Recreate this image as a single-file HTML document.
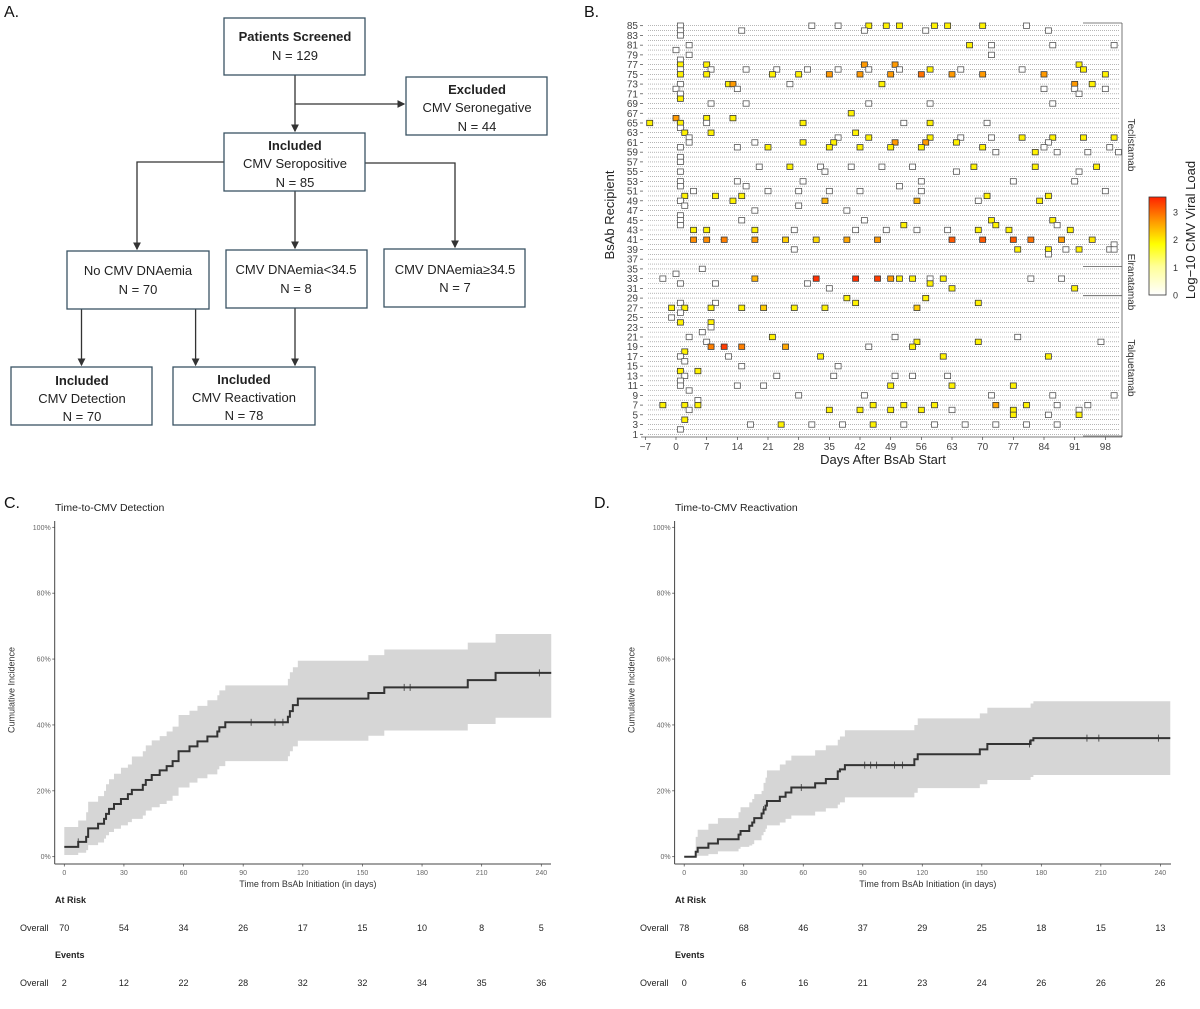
<!DOCTYPE html>
<html><head><meta charset="utf-8"><style>
body{margin:0;background:#fff;}
svg{display:block;font-family:"Liberation Sans",sans-serif;}
.bx{fill:#fff;stroke:#3a5363;stroke-width:1.3;}
.ft{font-size:13px;fill:#222;text-anchor:middle;}
.ln{stroke:#333;stroke-width:1.3;fill:none;}
</style></head><body>
<svg id="fig" width="1200" height="1009" viewBox="0 0 1200 1009">
<defs><marker id="ah" markerWidth="6" markerHeight="6" refX="5" refY="3" orient="auto"><path d="M0,0 L6,3 L0,6 z" fill="#333"/></marker>
<linearGradient id="cbar" x1="0" y1="1" x2="0" y2="0">
<stop offset="0" stop-color="#ffffff"/><stop offset="0.29" stop-color="#ffff99"/><stop offset="0.52" stop-color="#ffff00"/><stop offset="0.75" stop-color="#ff9900"/><stop offset="1" stop-color="#ff2200"/></linearGradient></defs>
<g font-size="16" fill="#111">
<text x="4" y="17">A.</text>
<text x="584" y="17">B.</text>
<text x="4" y="508">C.</text>
<text x="594" y="508">D.</text>
</g>
<g>
<path class="ln" d="M295,75 V131" marker-end="url(#ah)"/>
<path class="ln" d="M295,104 H404" marker-end="url(#ah)"/>
<path class="ln" d="M224,162 H137 V249" marker-end="url(#ah)"/>
<path class="ln" d="M365,163 H455 V247" marker-end="url(#ah)"/>
<path class="ln" d="M295,191 V248" marker-end="url(#ah)"/>
<path class="ln" d="M81.5,309 V365" marker-end="url(#ah)"/>
<path class="ln" d="M195.6,309 V365" marker-end="url(#ah)"/>
<path class="ln" d="M295,308 V365" marker-end="url(#ah)"/>
<g><rect class="bx" x="224" y="18" width="141" height="57"/><text class="ft" x="295" y="41" font-weight="bold">Patients Screened</text><text class="ft" x="295" y="60">N = 129</text></g>
<g><rect class="bx" x="406" y="77" width="141" height="58"/><text class="ft" x="477" y="94" font-weight="bold">Excluded</text><text class="ft" x="477" y="112">CMV Seronegative</text><text class="ft" x="477" y="131">N = 44</text></g>
<g><rect class="bx" x="224" y="133" width="141" height="58"/><text class="ft" x="295" y="150" font-weight="bold">Included</text><text class="ft" x="295" y="168">CMV Seropositive</text><text class="ft" x="295" y="187">N = 85</text></g>
<g><rect class="bx" x="67" y="251" width="142" height="58"/><text class="ft" x="138" y="275">No CMV DNAemia</text><text class="ft" x="138" y="294">N = 70</text></g>
<g><rect class="bx" x="226" y="250" width="141" height="58"/><text class="ft" x="296" y="274">CMV DNAemia&lt;34.5</text><text class="ft" x="296" y="293">N = 8</text></g>
<g><rect class="bx" x="384" y="249" width="141" height="58"/><text class="ft" x="455" y="274">CMV DNAemia≥34.5</text><text class="ft" x="455" y="292">N = 7</text></g>
<g><rect class="bx" x="11" y="367" width="141" height="58"/><text class="ft" x="82" y="385" font-weight="bold">Included</text><text class="ft" x="82" y="403">CMV Detection</text><text class="ft" x="82" y="421">N = 70</text></g>
<g><rect class="bx" x="173" y="367" width="142" height="58"/><text class="ft" x="244" y="384" font-weight="bold">Included</text><text class="ft" x="244" y="402">CMV Reactivation</text><text class="ft" x="244" y="420">N = 78</text></g>
</g>
<g id="pb"></g>
<g id="pc"></g>
<g id="pd"></g>
</svg>
<script>
// ---------- Panel B data: [day, recipient, log10 load]
const bsabSamples=[
[1,85,0],[31,85,0],[37,85,0],[44,85,1.9],[48,85,1.9],[51,85,1.9],[59,85,1.9],[62,85,1.9],[70,85,1.9],[80,85,0],
[1,84,0],[15,84,0],[43,84,0],[57,84,0],[85,84,0],[1,83,0],
[3,81,0],[67,81,1.9],[72,81,0],[86,81,0],[100,81,0],[0,80,0],[3,79,0],[72,79,0],[1,78,0],
[1,77,1.9],[7,77,1.9],[43,77,2.6],[50,77,2.6],[92,77,1.9],
[1,76,0],[8,76,0],[16,76,0],[23,76,0],[30,76,0],[37,76,0],[44,76,0],[51,76,0],[58,76,1.9],[65,76,0],[79,76,0],[93,76,1.9],
[1,75,1.9],[7,75,1.9],[22,75,1.9],[28,75,1.9],[35,75,2.6],[42,75,2.6],[49,75,2.6],[56,75,2.9],[63,75,2.6],[70,75,2.6],[84,75,2.6],[98,75,1.9],
[1,73,0],[12,73,1.9],[13,73,2.6],[26,73,0],[47,73,1.9],[91,73,2.6],[95,73,1.9],
[0,72,0],[14,72,0],[84,72,0],[91,72,0],[98,72,0],[1,71,0],[92,71,0],[1,70,1.9],
[8,69,0],[16,69,0],[44,69,0],[58,69,0],[86,69,0],[40,67,1.9],[0,66,2.6],[7,66,1.9],[13,66,1.9],
[-6,65,1.9],[1,65,1.9],[7,65,0],[29,65,1.9],[52,65,0],[58,65,1.9],[71,65,0],[1,64,0],[2,63,1.9],[8,63,1.9],[41,63,1.9],
[3,62,0],[37,62,0],[44,62,1.9],[58,62,1.9],[65,62,0],[72,62,0],[79,62,1.9],[86,62,1.9],[93,62,1.9],[100,62,1.9],
[3,61,0],[18,61,0],[29,61,1.9],[36,61,1.9],[50,61,2.6],[57,61,2.6],[64,61,1.9],[85,61,0],
[1,60,0],[14,60,0],[21,60,1.9],[35,60,1.9],[42,60,1.9],[49,60,1.9],[56,60,1.9],[70,60,1.9],[84,60,0],[99,60,0],
[73,59,0],[82,59,1.9],[87,59,0],[94,59,0],[101,59,0],[1,58,0],[1,57,0],
[19,56,0],[26,56,1.9],[33,56,0],[40,56,0],[47,56,0],[54,56,0],[68,56,1.9],[82,56,1.9],[96,56,1.9],
[1,55,0],[34,55,0],[64,55,0],[92,55,0],[1,53,0],[14,53,0],[29,53,0],[56,53,0],[77,53,0],[91,53,0],[1,52,0],[16,52,0],[51,52,0],
[4,51,0],[21,51,0],[28,51,0],[35,51,0],[42,51,0],[56,51,0],[98,51,0],[2,50,1.9],[9,50,1.9],[15,50,1.9],[71,50,1.9],[85,50,1.9],
[1,49,0],[13,49,1.9],[34,49,2.4],[55,49,2.4],[69,49,0],[83,49,1.9],[2,48,0],[28,48,0],[18,47,0],[39,47,0],[1,46,0],
[1,45,0],[15,45,0],[43,45,0],[72,45,1.9],[86,45,1.9],[1,44,0],[52,44,1.9],[73,44,1.9],[87,44,0],
[4,43,1.9],[7,43,1.9],[18,43,1.9],[27,43,0],[41,43,0],[48,43,0],[55,43,0],[62,43,0],[69,43,1.9],[76,43,1.9],[90,43,1.9],
[4,41,2.7],[7,41,2.7],[11,41,2.8],[18,41,2.6],[25,41,2.2],[32,41,2.1],[39,41,2.5],[46,41,2.6],[63,41,3.1],[70,41,3.1],[77,41,3.1],[81,41,2.9],[88,41,2.6],[95,41,2.0],
[100,40,0],[27,39,0],[78,39,1.9],[85,39,1.9],[89,39,0],[92,39,1.9],[99,39,0],[100,39,0],[85,38,0],
[6,35,0],[0,34,0],[-3,33,0],[18,33,2.4],[32,33,3.4],[41,33,3.4],[46,33,3.3],[49,33,2.6],[51,33,1.9],[54,33,1.9],[58,33,0],[61,33,1.9],[81,33,0],[88,33,0],
[1,32,0],[9,32,0],[30,32,0],[58,32,1.9],[35,31,0],[63,31,1.9],[91,31,1.9],[39,29,1.9],[57,29,1.9],[1,28,0],[9,28,0],[41,28,1.9],[69,28,1.9],
[-1,27,1.9],[2,27,1.9],[8,27,1.9],[15,27,1.9],[20,27,2.2],[27,27,1.9],[34,27,1.9],[55,27,2.2],[1,26,0],[-1,25,0],[1,24,1.9],[8,24,1.9],[8,23,0],[6,22,0],
[3,21,0],[22,21,1.9],[50,21,0],[78,21,0],[7,20,0],[55,20,1.9],[69,20,1.9],[97,20,0],
[8,19,2.8],[11,19,3.3],[15,19,2.8],[25,19,2.5],[44,19,0],[54,19,1.9],[2,18,1.9],[1,17,0],[12,17,0],[33,17,1.9],[61,17,1.9],[85,17,1.9],[2,16,0],
[15,15,0],[37,15,0],[1,14,1.9],[5,14,1.9],[2,13,0],[23,13,0],[36,13,0],[50,13,0],[54,13,0],[62,13,0],[1,12,0],
[1,11,0],[14,11,0],[20,11,0],[49,11,1.9],[63,11,1.9],[77,11,1.9],[3,10,0],[28,9,0],[43,9,0],[72,9,0],[86,9,0],[100,9,0],[5,8,0],
[-3,7,1.9],[2,7,1.9],[5,7,1.9],[45,7,1.9],[52,7,1.9],[59,7,1.9],[73,7,2.5],[80,7,1.9],[87,7,0],[94,7,0],
[3,6,0],[35,6,1.9],[42,6,1.9],[49,6,1.9],[56,6,1.9],[63,6,0],[77,6,1.9],[92,6,0],[77,5,1.9],[85,5,0],[92,5,1.9],[2,4,1.9],
[17,3,0],[24,3,1.9],[31,3,0],[38,3,0],[45,3,1.9],[52,3,0],[59,3,0],[66,3,0],[73,3,0],[80,3,0],[87,3,0],[1,2,0]];
const bDayTicks=[-7,0,7,14,21,28,35,42,49,56,63,70,77,84,91,98];
const bLoadTicks=[0,1,2,3];

// ---------- Panel C data
const cTimes=[0,7,11,12,17,20,21,22.5,25,28.5,32,34,39.5,41,44,48,51.5,54.5,57.5,63,67,72,77,78,81,112.5,113.5,115,117.5,153,161,203,217];
const cEst=[3,4.5,6,8.6,10,11.5,13,14.5,16,17.5,19,20.3,21.8,23.3,24.8,26.2,27.5,29,32,33.5,35,36.5,38,39.3,40.8,42.5,44.2,46,48,49.7,51.4,53.6,55.8];
const cHi=[9,11,13.5,16.7,18.4,20,22,23.5,25.2,27,28,30.4,32,33.8,35.3,36.6,38,39.5,43,44.3,45.8,47.5,49,50.5,52,54,56,57.5,59.5,61.2,62.9,65,67.6];
const cLo=[0.5,1.2,2,3.5,4.3,5.5,6.5,7.5,8.5,9.5,10.5,11.5,12.5,14,15,16,17,18.5,21,22.5,23.8,25,26.5,27.5,29,30.5,32,33.5,35.2,36.7,38.3,40.3,42.2];
const cCensor=[7,94,106,110,171,174,239];
const cAtRisk=[70,54,34,26,17,15,10,8,5];
const cEvents=[2,12,22,28,32,32,34,35,36];
// ---------- Panel D data
const dTimes=[0,5.8,6.8,12.2,17,27.4,28.4,32.8,34.3,35.3,39,40,41,41.7,48.2,51.1,54,66,71.4,77.4,78.5,81,116,117.7,149,152.8,174.6,176];
const dEst=[0,1.5,2.7,4,5.3,6.7,7.8,9.4,10.4,11.7,13.1,14.3,15.5,16.9,18.2,19.5,21,22.3,23.6,25.9,26.5,27.8,29.6,31.1,32.6,34.2,35.3,36];
const dHi=[0,6,8.2,10,11.7,13.5,15,16.5,17.5,19,20,22.4,24,26.2,28,29.2,30.7,32.3,33.8,35.5,36.5,38.4,40,42,43.5,45.2,46.5,47.2];
const dLo=[0,0.1,0.3,0.8,1.6,2.4,3,3.4,3.8,5,6.5,7.5,8.5,9.5,10.4,11.5,12.5,13.7,14.7,15.8,16.5,18,19.4,20.8,22,23.3,24.2,24.8];
const dCensor=[40,59,91,94,97,106,110,174,203,209,239];
const dAtRisk=[78,68,46,37,29,25,18,15,13];
const dEvents=[0,6,16,21,23,24,26,26,26];
const kmTicks=[0,30,60,90,120,150,180,210,240];
const pctTicks=[0,20,40,60,80,100];

const NS='http://www.w3.org/2000/svg';
function mk(parent,tag,attrs,txt){const e=document.createElementNS(NS,tag);for(const k in attrs)e.setAttribute(k,attrs[k]);if(txt!==undefined)e.textContent=txt;parent.appendChild(e);return e;}

// ===== Panel B
(function(){
const g=document.getElementById('pb');
const bx=d=>676+d*4.381, by=r=>25.7+(85-r)*4.864;
for(let r=1;r<=85;r++){
  const l=mk(g,'line',{x1:648,x2:1120,y1:by(r),y2:by(r),stroke:'#8a8a8a','stroke-width':0.6,'stroke-dasharray':'1,1'});
  
  
  if(r%2===1){
    const t=mk(g,'text',{x:638,y:by(r)+3.5,'font-size':10,fill:'#444','text-anchor':'end'},String(r));
    
    
    mk(g,'line',{x1:640,x2:643,y1:by(r),y2:by(r),stroke:'#444','stroke-width':0.7});
  }
}
const ax=mk(g,'line',{x1:641,x2:1122,y1:437,y2:437,stroke:'#555','stroke-width':0.8});


bDayTicks.forEach(d=>{
  mk(g,'line',{x1:bx(d),x2:bx(d),y1:437,y2:440,stroke:'#444','stroke-width':0.7});
  const t=mk(g,'text',{x:bx(d),y:450,'font-size':10,fill:'#444','text-anchor':'middle'},d<0?'−'+(-d):String(d));
  
  
});
function col(v){
  const st=[[0,[255,255,255]],[1,[255,255,153]],[1.8,[255,255,0]],[2.6,[255,153,0]],[3.5,[255,34,0]]];
  if(v<=0)return '#ffffff';
  for(let i=1;i<st.length;i++){if(v<=st[i][0]){const a=st[i-1],b=st[i],f=(v-a[0])/(b[0]-a[0]);return 'rgb('+a[1].map((c,j)=>Math.round(c+(b[1][j]-c)*f)).join(',')+')';}}
  return 'rgb(255,34,0)';
}
bsabSamples.forEach(s=>{
  const r=mk(g,'rect',{x:bx(s[0])-3,y:by(s[1])-2.7,width:6,height:5.4,fill:col(s[2]),stroke:s[2]>0?'#3a3a3a':'#555','stroke-width':0.8});
  
  
});
// facet strip
mk(g,'line',{x1:1122,x2:1122,y1:23,y2:437,stroke:'#555','stroke-width':0.8});
[[23],[266.5],[295.7],[436]].forEach(a=>mk(g,'line',{x1:1083,x2:1122,y1:a[0],y2:a[0],stroke:'#555','stroke-width':0.8}));
[['Teclistamab',145],['Elranatamab',282],['Talquetamab',368]].forEach(a=>{
  const t=mk(g,'text',{x:1128,y:a[1],'font-size':10,fill:'#333','text-anchor':'middle',transform:'rotate(90 1128 '+a[1]+')'},a[0]);
  
  
});
const yt=mk(g,'text',{x:614,y:215,'font-size':13,fill:'#222','text-anchor':'middle',transform:'rotate(-90 614 215)'},'BsAb Recipient');


const xt=mk(g,'text',{x:883,y:464,'font-size':13,fill:'#222','text-anchor':'middle'},'Days After BsAb Start');


const cb=mk(g,'rect',{x:1149,y:197,width:17,height:98,fill:'url(#cbar)',stroke:'#333','stroke-width':0.8});


const cy=v=>295-v*27.7;
bLoadTicks.forEach(v=>{
  const t=mk(g,'text',{x:1173,y:cy(v)+3.5,'font-size':9,fill:'#333'},String(v));
  
  
});
const lt=mk(g,'text',{x:1195,y:230,'font-size':13,fill:'#222','text-anchor':'middle',transform:'rotate(-90 1195 230)'},'Log−10 CMV Viral Load');


})();

// ===== KM panels
function km(id,o){
  const g=document.getElementById(id);
  const X=t=>o.x0+t*o.k, Y=p=>856.7-p*3.294;
  const T=o.times,E=o.est,H=o.hi,L=o.lo,end=245;
  let up='M'+X(T[0])+','+Y(H[0]);
  for(let i=1;i<T.length;i++)up+=' H'+X(T[i])+' V'+Y(H[i]);
  up+=' H'+X(end)+' V'+Y(L[L.length-1]);
  for(let i=T.length-1;i>0;i--)up+=' H'+X(T[i])+' V'+Y(L[i-1]);
  up+=' H'+X(T[0])+' Z';
  const band=mk(g,'path',{d:up,fill:'#d6d6d6'});
  
  
  let d='M'+X(T[0])+','+Y(E[0]);
  for(let i=1;i<T.length;i++)d+=' H'+X(T[i])+' V'+Y(E[i]);
  d+=' H'+X(end);
  const cur=mk(g,'path',{d:d,fill:'none',stroke:'#333','stroke-width':2});
  
  
  o.censor.forEach(c=>{let v=E[0];for(let i=0;i<T.length;i++)if(T[i]<=c)v=E[i];
    const m=mk(g,'line',{x1:X(c),x2:X(c),y1:Y(v)-3.5,y2:Y(v)+3.5,stroke:'#333','stroke-width':0.8});
    
    });
  const ax=o.axX;
  mk(g,'line',{x1:ax,x2:ax,y1:521,y2:864,stroke:'#444','stroke-width':1});
  mk(g,'line',{x1:ax,x2:o.right,y1:864,y2:864,stroke:'#444','stroke-width':1});
  pctTicks.forEach(p=>{mk(g,'line',{x1:ax-2.5,x2:ax,y1:Y(p),y2:Y(p),stroke:'#444','stroke-width':0.7});
    const t=mk(g,'text',{x:ax-4,y:Y(p)+2.5,'font-size':7,fill:'#666','text-anchor':'end'},p+'%');
    
    });
  kmTicks.forEach((t,i)=>{mk(g,'line',{x1:X(t),x2:X(t),y1:864,y2:866.5,stroke:'#444','stroke-width':0.7});
    const tl=mk(g,'text',{x:X(t),y:875,'font-size':7,fill:'#666','text-anchor':'middle'},String(t));
    
    
    const a=mk(g,'text',{x:X(t),y:931,'font-size':9,fill:'#222','text-anchor':'middle'},String(o.risk[i]));
    
    
    const e=mk(g,'text',{x:X(t),y:986,'font-size':9,fill:'#222','text-anchor':'middle'},String(o.events[i]));
    
    });
  const tt=mk(g,'text',{x:o.titleX,y:511,'font-size':10.5,fill:'#222'},o.title);
  
  
  const cx=(ax+o.right)/2;
  const xt=mk(g,'text',{x:cx+5,y:887,'font-size':9,fill:'#333','text-anchor':'middle'},'Time from BsAb Initiation (in days)');
  
  
  const yx=o.axX-40;
  const yt=mk(g,'text',{x:yx,y:690,'font-size':9,fill:'#333','text-anchor':'middle',transform:'rotate(-90 '+yx+' 690)'},'Cumulative Incidence');
  
  
  const ar=mk(g,'text',{x:o.titleX,y:903,'font-size':9,'font-weight':'bold',fill:'#222'},'At Risk');
  
  
  const ev=mk(g,'text',{x:o.titleX,y:958,'font-size':9,'font-weight':'bold',fill:'#222'},'Events');
  
  
  [931,986].forEach(y=>{const ov=mk(g,'text',{x:o.titleX-35,y:y,'font-size':9,fill:'#222'},'Overall');
    
    });
}
km('pc',{x0:64.3,k:1.9875,axX:54.7,right:551,times:cTimes,est:cEst,hi:cHi,lo:cLo,censor:cCensor,risk:cAtRisk,events:cEvents,title:'Time-to-CMV Detection',titleX:55});
km('pd',{x0:684.2,k:1.984,axX:674.6,right:1171,times:dTimes,est:dEst,hi:dHi,lo:dLo,censor:dCensor,risk:dAtRisk,events:dEvents,title:'Time-to-CMV Reactivation',titleX:675});
</script>
</body></html>
